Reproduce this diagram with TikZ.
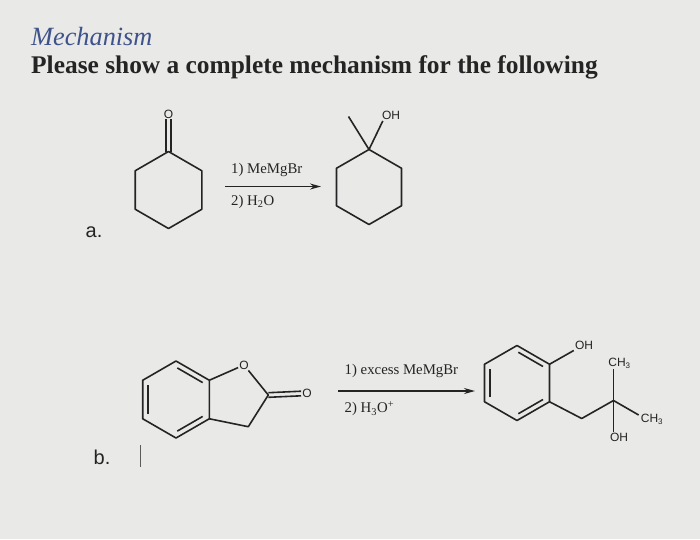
\documentclass[tikz,border=0pt]{standalone}
\usepackage{fontspec}
\setmainfont{Liberation Serif}
\newfontfamily\helv{Liberation Sans}
\usetikzlibrary{calc,arrows.meta}
\definecolor{bgc}{RGB}{233,233,231}
\definecolor{ink}{RGB}{36,36,36}
\definecolor{tblue}{RGB}{62,82,140}
\begin{document}
\begin{tikzpicture}[x=1pt,y=-1pt,
  bond/.style={draw=ink,line width=1.6pt,line join=round},
  inner/.style={bond,shorten <=1.5pt,shorten >=1.5pt},
  atom/.style={font=\helv\fontsize{12}{12}\selectfont,text=ink,inner sep=1pt},
  reag/.style={font=\fontsize{14.8}{15}\selectfont,text=ink,inner sep=0pt,anchor=west},
  rxn/.style={draw=ink,line width=1.5pt,-{Stealth[length=11pt,width=6pt]}},
  partlabel/.style={font=\helv\fontsize{20}{20}\selectfont,text=ink,inner sep=0pt}
]
\fill[bgc] (0,0) rectangle (700,539);
\useasboundingbox (0,0) rectangle (700,539);

% titles
\node[anchor=base west,inner sep=0pt,text=tblue,font=\itshape\fontsize{26.3}{26}\selectfont] (t1) at (31,45) {Mechanism};
\node[anchor=base west,inner sep=0pt,text=ink,font=\bfseries\fontsize{25.4}{25}\selectfont] (t2) at (31,73) {Please show a complete mechanism for the following};

% ---------- a. ----------
\node[partlabel] (la) at (94,232) {a.};
\coordinate (a1) at (168.5,151.5);
\coordinate (a2) at (201.8,170.75);
\coordinate (a3) at (201.8,209.25);
\coordinate (a4) at (168.5,228.5);
\coordinate (a5) at (135.2,209.25);
\coordinate (a6) at (135.2,170.75);
\node[atom] (aO) at (168.5,114) {O};
\draw[bond] (a1)--(a2)--(a3)--(a4)--(a5)--(a6)--cycle;
\draw[bond] ($(a1)+(-2.3,0)$) -- ($(aO.south)+(-2.3,0)$);
\draw[bond] ($(a1)+(2.3,0)$) -- ($(aO.south)+(2.3,0)$);

\coordinate (aA) at (225,186.5);
\coordinate (aB) at (321,186.5);
\draw[rxn] (aA) -- (aB);
\node[reag] (ra1) at (231,170) {1) MeMgBr};
\node[reag] (ra2) at (231,202) {2) H\textsubscript{2}O};

\coordinate (b1) at (369,149.5);
\coordinate (b2) at (401.5,168.25);
\coordinate (b3) at (401.5,205.75);
\coordinate (b4) at (369,224.5);
\coordinate (b5) at (336.5,205.75);
\coordinate (b6) at (336.5,168.25);
\coordinate (bMe) at (348.5,116.5);
\node[atom] (bOH) at (391,115.5) {OH};
\draw[bond] (b1)--(b2)--(b3)--(b4)--(b5)--(b6)--cycle;
\draw[bond] (b1) -- (bMe);
\draw[bond] (b1) -- ($(bOH.south west)+(2,0)$);

% ---------- b. ----------
\node[partlabel] (lb) at (102,457) {b.};
\coordinate (cur1) at (140,445);
\coordinate (cur2) at (140,467);
\draw[ink!75,line width=1pt] (cur1) -- (cur2);

\coordinate (cc) at (176,399.5);
\coordinate (c1) at (176,361);
\coordinate (c2) at (209.3,380.25);
\coordinate (c3) at (209.3,418.75);
\coordinate (c4) at (176,438);
\coordinate (c5) at (142.7,418.75);
\coordinate (c6) at (142.7,380.25);
\node[atom] (cO) at (244,365) {O};
\coordinate (c7) at (268.3,395);
\coordinate (c8) at (248.3,426.7);
\node[atom] (cO2) at (307,393.5) {O};
\draw[bond] (c1)--(c2)--(c3)--(c4)--(c5)--(c6)--cycle;
\draw[inner] ($(cc)!0.84!(c5)$) -- ($(cc)!0.84!(c6)$);
\draw[inner] ($(cc)!0.84!(c1)$) -- ($(cc)!0.84!(c2)$);
\draw[inner] ($(cc)!0.84!(c3)$) -- ($(cc)!0.84!(c4)$);
\draw[bond] (c2) -- (cO) -- (c7) -- (c8) -- (c3);
\draw[bond] ($(c7)+(0,-2.3)$) -- ($(cO2.west)+(0,-2.3)$);
\draw[bond] ($(c7)+(0,2.3)$) -- ($(cO2.west)+(0,2.3)$);

\coordinate (bA) at (338,391);
\coordinate (bB) at (475,391);
\draw[rxn] (bA) -- (bB);
\node[reag] (rb1) at (344.5,371) {1) excess MeMgBr};
\node[reag] (rb2) at (344.5,409) {2) H\textsubscript{3}O\textsuperscript{+}};

\coordinate (dd) at (517,383);
\coordinate (d1) at (517,345.5);
\coordinate (d2) at (549.5,364.25);
\coordinate (d3) at (549.5,401.75);
\coordinate (d4) at (517,420.5);
\coordinate (d5) at (484.5,401.75);
\coordinate (d6) at (484.5,364.25);
\coordinate (d7) at (581.7,418.5);
\coordinate (d8) at (613.5,400.5);
\node[atom] (dOH) at (584,345) {OH};
\node[atom] (dMe1) at (619.5,363) {CH\textsubscript{3}};
\node[atom] (dOH2) at (619,437) {OH};
\node[atom] (dMe2) at (652,419) {CH\textsubscript{3}};
\draw[bond] (d1)--(d2)--(d3)--(d4)--(d5)--(d6)--cycle;
\draw[inner] ($(dd)!0.84!(d5)$) -- ($(dd)!0.84!(d6)$);
\draw[inner] ($(dd)!0.84!(d1)$) -- ($(dd)!0.84!(d2)$);
\draw[inner] ($(dd)!0.84!(d3)$) -- ($(dd)!0.84!(d4)$);
\draw[bond] (d2) -- (dOH.south west);
\draw[bond] (d3) -- (d7) -- (d8);
\draw[bond] (d8) -- (d8 |- dMe1.south);
\draw[bond] (d8) -- (d8 |- dOH2.north);
\draw[bond] (d8) -- ($(dMe2.west)+(-1,-4)$);
\end{tikzpicture}
\end{document}
